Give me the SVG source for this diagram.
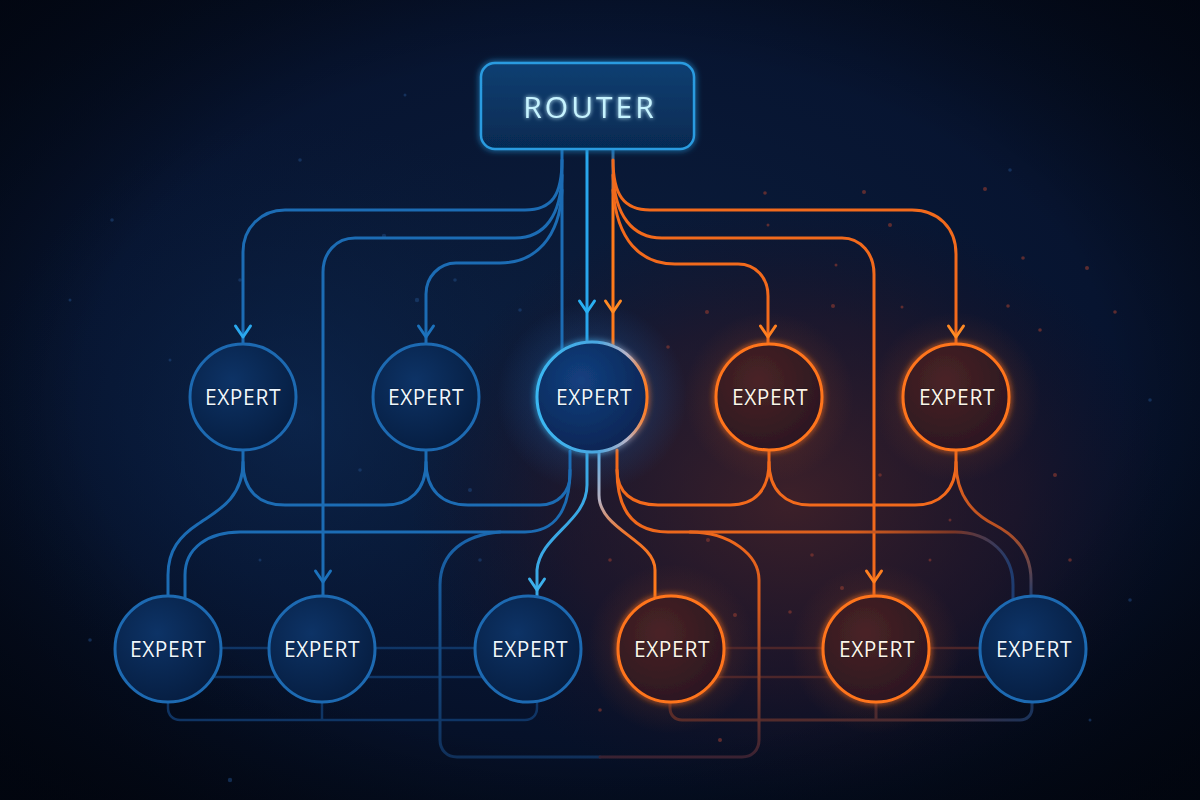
<svg xmlns="http://www.w3.org/2000/svg" width="1200" height="800" viewBox="0 0 1200 800">
<defs>
  <radialGradient id="bgBase" cx="0.5" cy="0.42" r="0.75">
    <stop offset="0" stop-color="#0b1d3c"/>
    <stop offset="0.55" stop-color="#071430"/>
    <stop offset="1" stop-color="#030916"/>
  </radialGradient>
  <radialGradient id="glowOrange" cx="0.5" cy="0.5" r="0.5">
    <stop offset="0" stop-color="#4a2226" stop-opacity="0.8"/>
    <stop offset="0.6" stop-color="#2e1624" stop-opacity="0.5"/>
    <stop offset="1" stop-color="#1a0f20" stop-opacity="0"/>
  </radialGradient>
  <radialGradient id="glowBlue" cx="0.5" cy="0.5" r="0.5">
    <stop offset="0" stop-color="#0d2c58" stop-opacity="0.6"/>
    <stop offset="1" stop-color="#0a2040" stop-opacity="0"/>
  </radialGradient>
  <radialGradient id="glowT3" cx="0.5" cy="0.5" r="0.5">
    <stop offset="0" stop-color="#1d64b4" stop-opacity="0.55"/>
    <stop offset="1" stop-color="#1d64b4" stop-opacity="0"/>
  </radialGradient>
  <radialGradient id="glowCirO" cx="0.5" cy="0.5" r="0.5">
    <stop offset="0" stop-color="#c0501c" stop-opacity="0.3"/>
    <stop offset="1" stop-color="#c0501c" stop-opacity="0"/>
  </radialGradient>
  <radialGradient id="fillBlue" cx="0.4" cy="0.35" r="0.7">
    <stop offset="0" stop-color="#0d3366"/>
    <stop offset="1" stop-color="#061d40"/>
  </radialGradient>
  <radialGradient id="fillOrange" cx="0.4" cy="0.35" r="0.7">
    <stop offset="0" stop-color="#4a2426"/>
    <stop offset="1" stop-color="#2a1620"/>
  </radialGradient>
  <radialGradient id="fillT3" cx="0.4" cy="0.35" r="0.7">
    <stop offset="0" stop-color="#134080"/>
    <stop offset="1" stop-color="#0a2452"/>
  </radialGradient>
  <linearGradient id="strokeT3" x1="0" y1="0" x2="1" y2="0">
    <stop offset="0" stop-color="#3ab8f2"/>
    <stop offset="0.55" stop-color="#4aa6e0"/>
    <stop offset="0.82" stop-color="#b8b4c8"/>
    <stop offset="1" stop-color="#ff7a1e"/>
  </linearGradient>
  <linearGradient id="routerFill" x1="0" y1="0" x2="0" y2="1">
    <stop offset="0" stop-color="#0c3f72"/>
    <stop offset="1" stop-color="#062a52"/>
  </linearGradient>
  <radialGradient id="vignette" cx="0.5" cy="0.5" r="0.72">
    <stop offset="0.6" stop-color="#000000" stop-opacity="0"/>
    <stop offset="1" stop-color="#01040c" stop-opacity="0.7"/>
  </radialGradient>
  <linearGradient id="g613" gradientUnits="userSpaceOnUse" x1="0" y1="150" x2="0" y2="200">
    <stop offset="0" stop-color="#1a6ab0"/>
    <stop offset="1" stop-color="#ff7a1a"/>
  </linearGradient>
  <linearGradient id="gB4" gradientUnits="userSpaceOnUse" x1="0" y1="452" x2="0" y2="590">
    <stop offset="0" stop-color="#5aaee6"/>
    <stop offset="0.35" stop-color="#b8b0c0"/>
    <stop offset="0.6" stop-color="#f07428"/>
    <stop offset="1" stop-color="#ff7a1a"/>
  </linearGradient>
  <linearGradient id="g532" gradientUnits="userSpaceOnUse" x1="617" y1="0" x2="1013" y2="0">
    <stop offset="0" stop-color="#f26a1c"/>
    <stop offset="0.6" stop-color="#d85e1e"/>
    <stop offset="0.85" stop-color="#7a3626"/>
    <stop offset="1" stop-color="#1e3c70"/>
  </linearGradient>
  <linearGradient id="gT5B6" gradientUnits="userSpaceOnUse" x1="0" y1="455" x2="0" y2="600">
    <stop offset="0" stop-color="#f26a1c"/>
    <stop offset="0.5" stop-color="#b85022"/>
    <stop offset="1" stop-color="#1c3a6c"/>
  </linearGradient>
  <linearGradient id="gLoopB" gradientUnits="userSpaceOnUse" x1="0" y1="532" x2="0" y2="757">
    <stop offset="0" stop-color="#1a66ae"/>
    <stop offset="1" stop-color="#10305a"/>
  </linearGradient>
  <linearGradient id="gLoopO" gradientUnits="userSpaceOnUse" x1="0" y1="532" x2="0" y2="757">
    <stop offset="0" stop-color="#f26a1c"/>
    <stop offset="0.35" stop-color="#d0581e"/>
    <stop offset="1" stop-color="#3a2232"/>
  </linearGradient>
  <linearGradient id="gBotR" gradientUnits="userSpaceOnUse" x1="660" y1="0" x2="1040" y2="0">
    <stop offset="0" stop-color="#5a2c28"/>
    <stop offset="0.7" stop-color="#4a2a30"/>
    <stop offset="1" stop-color="#17345e"/>
  </linearGradient>
  <filter id="glow" x="-30%" y="-30%" width="160%" height="160%">
    <feGaussianBlur in="SourceGraphic" stdDeviation="3" result="b"/>
    <feMerge><feMergeNode in="b"/><feMergeNode in="SourceGraphic"/></feMerge>
  </filter>
  <filter id="txtglow" x="-20%" y="-50%" width="140%" height="200%">
    <feGaussianBlur in="SourceGraphic" stdDeviation="2" result="b"/>
    <feMerge><feMergeNode in="b"/><feMergeNode in="SourceGraphic"/></feMerge>
  </filter>
  <path id="chev" d="M-7.5,-11 L0,0 L7.5,-11" fill="none"/>
  <style>
    .ln{fill:none;stroke-width:3;stroke-linecap:round;stroke-linejoin:round}
    .blue{stroke:#1c6cb4}
    .bright{stroke:#29a6ec}
    .cyan{stroke:#3aa8e4}
    .orange{stroke:#f26a1c}
    .faintB{stroke:#123c70;stroke-width:2.5;opacity:0.85}
    .faintO{stroke:#55292a;stroke-width:2.5;opacity:0.85}
    .ah{fill:none;stroke-width:3;stroke-linecap:round;stroke-linejoin:round}
    .ex-b{fill:url(#fillBlue);stroke:#1d6ab2;stroke-width:3}
    .ex-o{fill:url(#fillOrange);stroke:#ff741c;stroke-width:3}
    .lbl{font-family:"Open Sans","Liberation Sans",sans-serif;font-size:21px;fill:#eef7ff;text-anchor:middle;letter-spacing:0.6px;stroke:#02101f;stroke-width:0.6;paint-order:stroke}
    .lbl-o{fill:#fff4e6}
    .rt{font-family:"Open Sans","Liberation Sans",sans-serif;font-size:30px;fill:#c6f3ff;text-anchor:middle;letter-spacing:3px}
    .dotB{fill:#1e4478;opacity:0.6}
    .dotO{fill:#7a3430;opacity:0.75}
  </style>
</defs>

<!-- background -->
<rect width="1200" height="800" fill="url(#bgBase)"/>
<ellipse cx="300" cy="420" rx="320" ry="300" fill="url(#glowBlue)"/>
<ellipse cx="790" cy="500" rx="380" ry="300" fill="url(#glowOrange)"/>
<rect width="1200" height="800" fill="url(#vignette)"/>
<g id="dots">
  <circle class="dotB" cx="112" cy="220" r="1.8"/><circle class="dotB" cx="70" cy="300" r="1.5"/>
  <circle class="dotB" cx="300" cy="160" r="1.8"/><circle class="dotB" cx="405" cy="95" r="1.5"/>
  <circle class="dotB" cx="384" cy="236" r="2.2"/><circle class="dotB" cx="417" cy="300" r="2.2"/>
  <circle class="dotB" cx="455" cy="280" r="1.8"/><circle class="dotB" cx="520" cy="310" r="1.8"/>
  <circle class="dotB" cx="240" cy="280" r="1.8"/><circle class="dotB" cx="170" cy="360" r="1.5"/>
  <circle class="dotB" cx="360" cy="470" r="1.8"/><circle class="dotB" cx="470" cy="490" r="2"/>
  <circle class="dotB" cx="260" cy="560" r="1.5"/><circle class="dotB" cx="480" cy="560" r="1.8"/>
  <circle class="dotB" cx="90" cy="640" r="1.8"/><circle class="dotB" cx="230" cy="780" r="2.2"/>
  <circle class="dotB" cx="1130" cy="600" r="1.8"/><circle class="dotB" cx="1090" cy="720" r="1.5"/>
  <circle class="dotB" cx="1010" cy="170" r="1.8"/><circle class="dotB" cx="1150" cy="400" r="1.8"/>
  <circle class="dotO" cx="765" cy="193" r="1.8"/><circle class="dotO" cx="864" cy="192" r="2"/>
  <circle class="dotO" cx="768" cy="225" r="1.5"/><circle class="dotO" cx="985" cy="189" r="2"/>
  <circle class="dotO" cx="1023" cy="258" r="1.8"/><circle class="dotO" cx="890" cy="225" r="2"/>
  <circle class="dotO" cx="836" cy="265" r="1.5"/><circle class="dotO" cx="833" cy="306" r="2"/>
  <circle class="dotO" cx="902" cy="307" r="1.5"/><circle class="dotO" cx="707" cy="312" r="2"/>
  <circle class="dotO" cx="1008" cy="306" r="1.8"/><circle class="dotO" cx="1040" cy="330" r="1.8"/>
  <circle class="dotO" cx="1087" cy="268" r="2"/><circle class="dotO" cx="1115" cy="312" r="1.8"/>
  <circle class="dotO" cx="668" cy="347" r="1.8"/><circle class="dotO" cx="708" cy="540" r="2"/>
  <circle class="dotO" cx="812" cy="555" r="1.8"/><circle class="dotO" cx="842" cy="588" r="2"/>
  <circle class="dotO" cx="735" cy="615" r="2"/><circle class="dotO" cx="790" cy="612" r="1.8"/>
  <circle class="dotO" cx="1055" cy="475" r="2"/><circle class="dotO" cx="1070" cy="560" r="1.8"/>
  <circle class="dotO" cx="610" cy="560" r="1.8"/><circle class="dotO" cx="950" cy="520" r="1.5"/>
  <circle class="dotO" cx="720" cy="740" r="2"/><circle class="dotO" cx="600" cy="710" r="1.8"/>
  <circle class="dotO" cx="930" cy="560" r="1.5"/><circle class="dotO" cx="880" cy="475" r="1.8"/>
</g>

<!-- node glows -->
<circle cx="592" cy="397" r="95" fill="url(#glowT3)"/>
<circle cx="769" cy="397" r="85" fill="url(#glowCirO)"/>
<circle cx="956" cy="397" r="85" fill="url(#glowCirO)"/>
<circle cx="671" cy="649" r="85" fill="url(#glowCirO)"/>
<circle cx="876" cy="649" r="85" fill="url(#glowCirO)"/>

<g id="connectors">
  <!-- faint bottom mesh -->
  <path class="ln faintB" d="M221,648 H269 M375,648 H477 M213,677 H277 M367,677 H483"/>
  <path class="ln faintB" d="M168,702 V708 C168,715 173,720 180,720 H525 C532,720 537,715 537,708 V700 M322,702 V720"/>
  <path class="ln faintO" d="M724,648 H823 M929,648 H980 M716,677 H831 M921,677 H988"/>
  <path class="ln" stroke="url(#gBotR)" stroke-width="2.5" d="M670,702 V708 C670,715 675,720 682,720 H1020 C1027,720 1032,715 1032,708 V700 M876,702 V720"/>
  <path class="ln" stroke="url(#gLoopB)" d="M500,532 C465,535 440,552 440,585 V740 C440,750 447,757 457,757 H600"/>
  <path class="ln" stroke="url(#gLoopO)" d="M600,757 H742 C752,757 759,750 759,740 V580 C759,555 730,532 690,532"/>

  <!-- router outputs -->
  <path class="ln blue" d="M562,148 V351"/>
  <path class="ln bright" d="M587,148 V343"/>
  <path class="ln" stroke="url(#g613)" d="M613,148 V347"/>
  <path class="ln blue" d="M562,160 C562,195 552,210 525,210 H285 C261,210 243,228 243,252 V344"/>
  <path class="ln blue" d="M562,175 C561,215 545,238 515,238 H355 C336,238 323,253 323,272 V597"/>
  <path class="ln blue" d="M562,190 C560,238 535,263 500,263 H456 C439,263 426,277 426,294 V344"/>
  <path class="ln orange" d="M613,160 C613,195 624,210 650,210 H912 C938,210 956,228 956,254 V344"/>
  <path class="ln orange" d="M613,175 C615,215 632,238 662,238 H842 C861,238 874,254 874,274 V597"/>
  <path class="ln orange" d="M613,190 C617,240 640,264 675,264 H738 C756,264 768,278 768,296 V344"/>

  <!-- mesh between rows -->
  <path class="ln blue" d="M243,450 V462 C243,490 258,505 285,505 H385 C410,505 426,490 426,462 V450"/>
  <path class="ln blue" d="M426,462 C426,490 442,505 468,505 H540 C558,505 570,492 570,475 V451"/>
  <path class="ln blue" d="M243,462 C243,500 215,512 198,524 C180,536 168,550 168,575 V596"/>
  <path class="ln blue" d="M570,470 C570,510 555,532 525,532 H240 C208,532 185,548 185,575 V599"/>
  <path class="ln cyan" d="M587,451 V485 C587,522 540,535 537,570 V597"/>
  <path class="ln" stroke="url(#gB4)" d="M599,451 V495 C599,530 655,540 655,570 V598"/>
  <path class="ln orange" d="M617,450 V470 C617,492 632,505 658,505 H730 C755,505 769,490 769,462 V450"/>
  <path class="ln orange" d="M769,462 C769,490 785,505 810,505 H915 C940,505 956,490 956,462 V450"/>
  <path class="ln" stroke="url(#g532)" d="M617,470 C617,512 635,532 668,532 H955 C990,532 1013,555 1013,585 V600"/>
  <path class="ln" stroke="url(#gT5B6)" d="M956,462 C956,498 975,515 995,525 C1018,537 1031,555 1031,580 V598"/>

  <!-- arrowheads -->
  <use href="#chev" x="243" y="337" class="ah" stroke="#2aa8ee"/>
  <use href="#chev" x="426" y="337" class="ah" stroke="#1c72bc"/>
  <use href="#chev" x="587" y="312" class="ah" stroke="#2ab0f2"/>
  <use href="#chev" x="613" y="312" class="ah" stroke="#ff8a24"/>
  <use href="#chev" x="768" y="337" class="ah" stroke="#ff8020"/>
  <use href="#chev" x="956" y="337" class="ah" stroke="#ff8a24"/>
  <use href="#chev" x="323" y="582" class="ah" stroke="#1c72bc"/>
  <use href="#chev" x="537" y="590" class="ah" stroke="#3cb0ec"/>
  <use href="#chev" x="874" y="582" class="ah" stroke="#ff8020"/>
</g>

<g id="router">
  <rect x="481" y="63" width="213" height="86" rx="14" fill="url(#routerFill)" stroke="#2a9be0" stroke-width="2.5" filter="url(#glow)"/>
  <text class="rt" x="590" y="118" filter="url(#txtglow)">ROUTER</text>
</g>

<g id="expert-t1"><circle class="ex-b" cx="243" cy="397" r="53"/><text class="lbl" x="243" y="405">EXPERT</text></g>
<g id="expert-t2"><circle class="ex-b" cx="426" cy="397" r="53"/><text class="lbl" x="426" y="405">EXPERT</text></g>
<g id="expert-t3"><circle cx="592" cy="397" r="55" fill="url(#fillT3)" stroke="url(#strokeT3)" stroke-width="3" filter="url(#glow)"/><text class="lbl" x="594" y="405">EXPERT</text></g>
<g id="expert-t4"><circle class="ex-o" cx="769" cy="397" r="53" filter="url(#glow)"/><text class="lbl lbl-o" x="770" y="405">EXPERT</text></g>
<g id="expert-t5"><circle class="ex-o" cx="956" cy="397" r="53" filter="url(#glow)"/><text class="lbl lbl-o" x="957" y="405">EXPERT</text></g>

<g id="expert-b1"><circle class="ex-b" cx="168" cy="649" r="53"/><text class="lbl" x="168" y="657">EXPERT</text></g>
<g id="expert-b2"><circle class="ex-b" cx="322" cy="649" r="53"/><text class="lbl" x="322" y="657">EXPERT</text></g>
<g id="expert-b3"><circle class="ex-b" cx="528" cy="649" r="53" stroke="#2576bc"/><text class="lbl" x="530" y="657">EXPERT</text></g>
<g id="expert-b4"><circle class="ex-o" cx="671" cy="649" r="53" filter="url(#glow)"/><text class="lbl lbl-o" x="672" y="657">EXPERT</text></g>
<g id="expert-b5"><circle class="ex-o" cx="876" cy="649" r="53" filter="url(#glow)"/><text class="lbl lbl-o" x="877" y="657">EXPERT</text></g>
<g id="expert-b6"><circle class="ex-b" cx="1033" cy="649" r="53" stroke="#1a4f94"/><text class="lbl" x="1034" y="657">EXPERT</text></g>
</svg>
